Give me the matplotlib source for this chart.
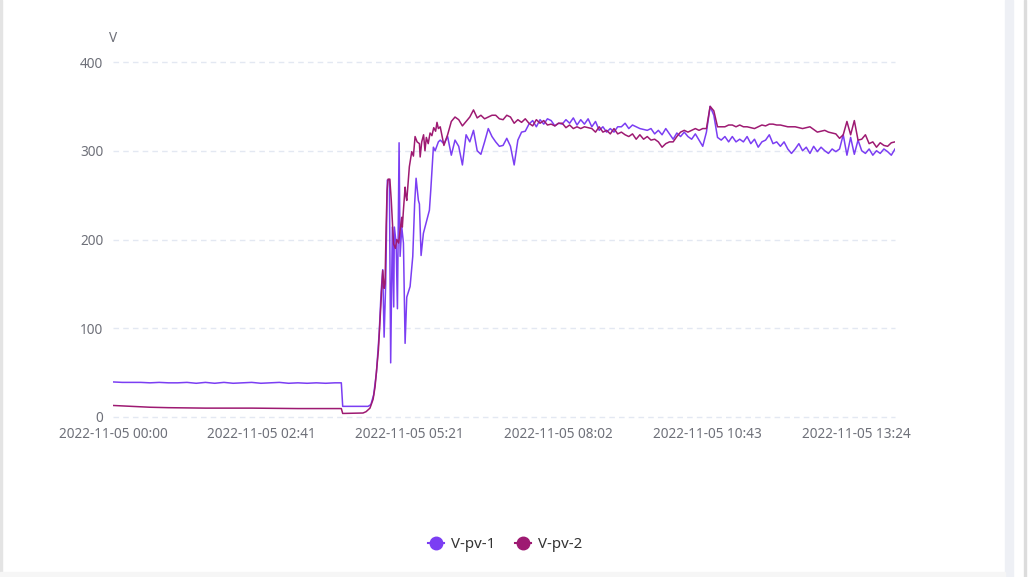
import matplotlib

matplotlib.use("Agg")
import matplotlib.pyplot as plt
import numpy as np
from matplotlib.lines import Line2D
from matplotlib.patches import Rectangle

plt.rcParams["font.family"] = ["Noto Sans", "DejaVu Sans"]

# x axis: minutes after 2022-11-05 00:00
tick_minutes = [0, 161, 321, 482, 643, 804]
tick_labels = [
    "2022-11-05 00:00",
    "2022-11-05 02:41",
    "2022-11-05 05:21",
    "2022-11-05 08:02",
    "2022-11-05 10:43",
    "2022-11-05 13:24",
]
y_ticks = [0, 100, 200, 300, 400]

# night + ramp-up, irregular samples (minute, volts)
pv1_head_t = [0, 10, 20, 30, 40, 50, 60, 70, 80, 90, 100, 110, 120, 130, 140, 150,
              160, 170, 180, 190, 200, 210, 220, 230, 240,
              247, 248.5, 276, 279, 282, 285, 288, 290, 291.8, 293.3, 295, 296.8, 299,
              300.4, 302.2, 303.7, 304.4, 306.3, 307.7, 309.5, 310.6, 312.4, 314.2, 316,
              317.8, 321.4, 324.3, 326.3, 327.9, 330.4, 331.5, 333.3, 335.8, 339.5,
              342.3, 343.8, 346.6, 348.5, 352]
pv1_head_v = [39.5, 39, 39, 39, 38.5, 39, 38.5, 38.5, 39, 38, 39, 38, 39, 38, 38.5, 39,
              38, 38.5, 39, 38, 38.5, 38, 38.5, 38, 38.5,
              38.5, 12, 12, 14, 25, 50, 95, 140, 166, 90, 150, 267, 267,
              61, 214, 124, 214, 196, 122, 309, 181, 214, 196, 83,
              135, 147, 181, 240, 269, 244, 240, 182, 207, 222,
              233, 256, 304, 300, 310]

pv2_head_t = [0, 20, 40, 60, 100, 150, 200, 247, 248.5, 270.5, 273.8, 278, 281.4, 283.5,
              287.1, 290.8, 291.8, 292.5, 293.3, 294.3, 295.5, 296.5, 297.6, 299.5, 301,
              302.5, 303.5, 305.5, 307, 309, 311, 312.4, 313, 314.2, 316, 316.8, 317.8,
              320.6, 323.2, 325, 326.8, 329, 331.5, 332.3, 334, 336, 337.5, 339, 341,
              343, 345, 347, 349, 350.5, 352]
pv2_head_v = [13, 12, 11, 10.5, 10, 10, 9.5, 9.5, 4, 4.5, 6, 10, 20, 34,
              75, 147, 165, 155, 145, 150, 215, 255, 268, 268, 245,
              215, 195, 190, 200, 196, 214, 225, 214, 233, 259, 250, 244,
              282, 299, 294, 316, 310, 308, 293, 310, 318, 300, 315, 308,
              320, 317, 326, 322, 332, 325]

# daytime, sampled every 4 minutes from 05:54 to 14:06
plateau_t = np.arange(354, 847, 4)
pv1_plateau = [
    312, 308, 316, 295, 312, 305, 284, 318, 310, 323, 300, 296, 310, 325, 316, 310,
    305, 306, 314, 305, 284, 312, 321, 322, 330, 334, 327, 335, 330, 336, 334, 328,
    331, 330, 335, 331, 337, 329, 335, 330, 336,
    327, 333, 323, 327, 321, 325, 321, 327, 327, 331, 325, 329, 327, 325, 324, 323,
    325, 319, 323, 318, 325, 319, 313, 320, 316, 321, 316, 313, 319, 312, 305, 321,
    350, 340, 315, 312, 316, 310, 316, 310, 313,
    310, 316, 308, 313, 304, 310, 312, 318, 308, 310, 305, 310, 302, 297, 302, 308,
    300, 304, 297, 305, 299, 304, 300, 297, 302, 299, 302, 318, 295, 315, 296, 312,
    300, 297, 302, 295, 300, 297, 302, 299, 295, 302,
]
pv2_plateau = [
    327, 306, 318, 333, 338, 335, 328, 333, 338, 346, 337, 340, 336, 338, 340, 340,
    336, 335, 340, 338, 331, 335, 332, 336, 331, 328, 335, 331, 334, 329, 330, 328,
    331, 331, 326, 329, 325, 327, 325, 327, 326,
    325, 321, 327, 321, 323, 319, 325, 319, 321, 318, 316, 319, 313, 318, 313, 316,
    312, 313, 310, 304, 308, 310, 310, 316, 321, 323, 321, 323, 325, 323, 325, 325,
    350, 345, 327, 327, 327, 329, 329, 327, 329,
    327, 327, 326, 325, 327, 329, 328, 330, 330, 329, 329, 328, 327, 327, 327, 326,
    325, 326, 327, 324, 321, 322, 323, 321, 320, 319, 314, 318, 333, 318, 334, 312,
    313, 318, 308, 310, 304, 309, 306, 305, 309, 310,
]

series_names = ["V-pv-1", "V-pv-2"]
colors = ["#7b3ef3", "#9e1a72"]

W, H = 1030, 577
fig = plt.figure(figsize=(W / 100, H / 100), dpi=100, facecolor="white")

# page chrome around the chart
fig.patches.append(Rectangle((0, 0), 2 / W, 1, transform=fig.transFigure,
                             color="#e4e4e4", zorder=0))
fig.patches.append(Rectangle((1005 / W, 0), 8 / W, 1, transform=fig.transFigure,
                             color="#eef0f5", zorder=0))
fig.patches.append(Rectangle((1024 / W, 0), 1.5 / W, 1, transform=fig.transFigure,
                             color="#dcdcdc", zorder=0))
fig.patches.append(Rectangle((0, 0), 1005 / W, 5 / H, transform=fig.transFigure,
                             color="#f6f6f6", zorder=0))

ax = fig.add_axes([113 / W, 1 - 417 / H, (895 - 113) / W, (417 - 62) / H])

t1 = np.concatenate([pv1_head_t, plateau_t])
v1 = np.concatenate([pv1_head_v, pv1_plateau])
t2 = np.concatenate([pv2_head_t, plateau_t])
v2 = np.concatenate([pv2_head_v, pv2_plateau])

ax.plot(t1, v1, color=colors[0], lw=1.1, zorder=3)
ax.plot(t2, v2, color=colors[1], lw=1.1, zorder=4)

ax.set_xlim(0, 846)
ax.set_ylim(0, 400)
for s in ax.spines.values():
    s.set_visible(False)

for yv in y_ticks:
    ax.axhline(yv, color="#e3e8f2", lw=1, ls=(0, (4, 3)), zorder=1, clip_on=False)

ax.set_yticks(y_ticks)
ax.set_xticks(tick_minutes)
ax.set_xticklabels(tick_labels)
ax.tick_params(axis="both", length=0, labelsize=9.8, labelcolor="#6e7079")
ax.tick_params(axis="x", pad=7)
ax.tick_params(axis="y", pad=7)

fig.text(113 / W, 1 - 38 / H, "V", ha="center", va="center", fontsize=9.8, color="#6e7079")

handles = [Line2D([0], [0], color=c, lw=1.5, marker="o", markersize=9) for c in colors]
fig.legend(handles, series_names, loc="center", bbox_to_anchor=(0.4905, 1 - 545 / H),
           ncol=2, frameon=False, fontsize=10.8, labelcolor="#333333",
           handlelength=1.1, handletextpad=0.45, columnspacing=1.3)

fig.savefig("out.png", dpi=100, facecolor="white")
plt.close(fig)
